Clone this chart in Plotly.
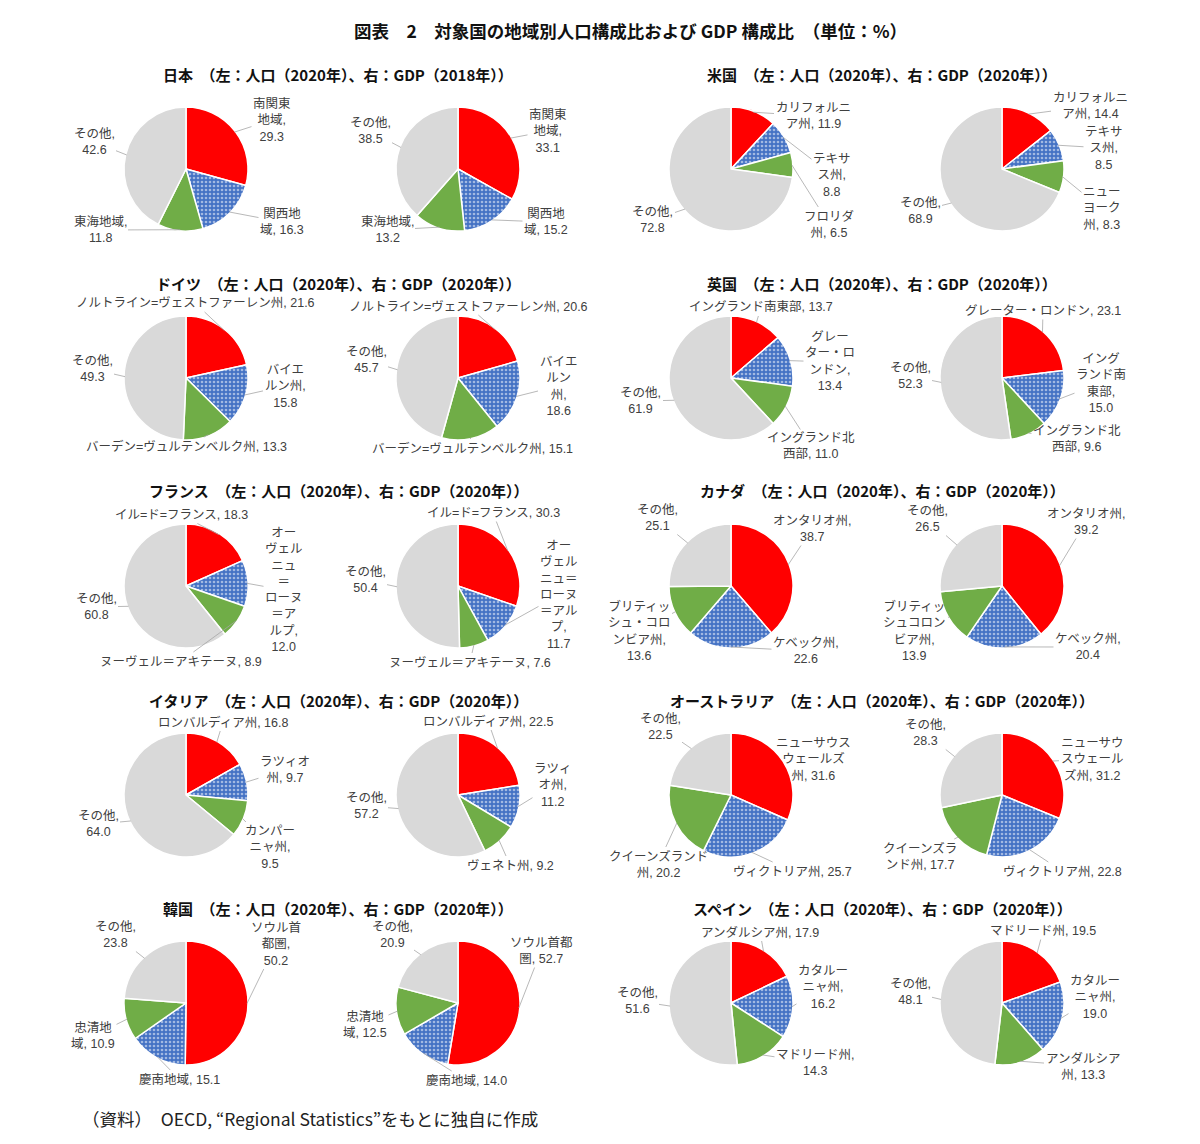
import math

import plotly.graph_objects as go

W, H = 1200, 1144

TITLE = "図表　2　対象国の地域別人口構成比および GDP 構成比　（単位：%）"
SOURCE = "（資料）　OECD, “Regional Statistics”をもとに独自に作成"

COUNTRIES = ["日本", "米国", "ドイツ", "英国", "フランス", "カナダ", "イタリア", "オーストラリア", "韓国", "スペイン"]
GDP_YEARS = ["2018", "2020", "2020", "2020", "2020", "2020", "2020", "2020", "2020", "2020"]

# slice order in every pie: red, blue (dotted), green, grey (その他)
JAPAN_POP_REGIONS = ["南関東地域", "関西地域", "東海地域", "その他"]
JAPAN_POP = [29.3, 16.3, 11.8, 42.6]
JAPAN_GDP_REGIONS = ["南関東地域", "関西地域", "東海地域", "その他"]
JAPAN_GDP = [33.1, 15.2, 13.2, 38.5]

US_POP_REGIONS = ["カリフォルニア州", "テキサス州", "フロリダ州", "その他"]
US_POP = [11.9, 8.8, 6.5, 72.8]
US_GDP_REGIONS = ["カリフォルニア州", "テキサス州", "ニューヨーク州", "その他"]
US_GDP = [14.4, 8.5, 8.3, 68.9]

GERMANY_POP_REGIONS = ["ノルトライン=ヴェストファーレン州", "バイエルン州", "バーデン=ヴュルテンベルク州", "その他"]
GERMANY_POP = [21.6, 15.8, 13.3, 49.3]
GERMANY_GDP_REGIONS = ["ノルトライン=ヴェストファーレン州", "バイエルン州", "バーデン=ヴュルテンベルク州", "その他"]
GERMANY_GDP = [20.6, 18.6, 15.1, 45.7]

UK_POP_REGIONS = ["イングランド南東部", "グレーター・ロンドン", "イングランド北西部", "その他"]
UK_POP = [13.7, 13.4, 11.0, 61.9]
UK_GDP_REGIONS = ["グレーター・ロンドン", "イングランド南東部", "イングランド北西部", "その他"]
UK_GDP = [23.1, 15.0, 9.6, 52.3]

FRANCE_POP_REGIONS = ["イル=ド=フランス", "オーヴェルニュ＝ローヌ＝アルプ", "ヌーヴェル＝アキテーヌ", "その他"]
FRANCE_POP = [18.3, 12.0, 8.9, 60.8]
FRANCE_GDP_REGIONS = ["イル=ド=フランス", "オーヴェルニュ＝ローヌ＝アルプ", "ヌーヴェル＝アキテーヌ", "その他"]
FRANCE_GDP = [30.3, 11.7, 7.6, 50.4]

CANADA_POP_REGIONS = ["オンタリオ州", "ケベック州", "ブリティッシュ・コロンビア州", "その他"]
CANADA_POP = [38.7, 22.6, 13.6, 25.1]
CANADA_GDP_REGIONS = ["オンタリオ州", "ケベック州", "ブリティッシュコロンビア州", "その他"]
CANADA_GDP = [39.2, 20.4, 13.9, 26.5]

ITALY_POP_REGIONS = ["ロンバルディア州", "ラツィオ州", "カンパーニャ州", "その他"]
ITALY_POP = [16.8, 9.7, 9.5, 64.0]
ITALY_GDP_REGIONS = ["ロンバルディア州", "ラツィオ州", "ヴェネト州", "その他"]
ITALY_GDP = [22.5, 11.2, 9.2, 57.2]

AUSTRALIA_POP_REGIONS = ["ニューサウスウェールズ州", "ヴィクトリア州", "クイーンズランド州", "その他"]
AUSTRALIA_POP = [31.6, 25.7, 20.2, 22.5]
AUSTRALIA_GDP_REGIONS = ["ニューサウスウェールズ州", "ヴィクトリア州", "クイーンズランド州", "その他"]
AUSTRALIA_GDP = [31.2, 22.8, 17.7, 28.3]

KOREA_POP_REGIONS = ["ソウル首都圏", "慶南地域", "忠清地域", "その他"]
KOREA_POP = [50.2, 15.1, 10.9, 23.8]
KOREA_GDP_REGIONS = ["ソウル首都圏", "慶南地域", "忠清地域", "その他"]
KOREA_GDP = [52.7, 14.0, 12.5, 20.9]

SPAIN_POP_REGIONS = ["アンダルシア州", "カタルーニャ州", "マドリード州", "その他"]
SPAIN_POP = [17.9, 16.2, 14.3, 51.6]
SPAIN_GDP_REGIONS = ["マドリード州", "カタルーニャ州", "アンダルシア州", "その他"]
SPAIN_GDP = [19.5, 19.0, 13.3, 48.1]

PIES = [
    (JAPAN_POP_REGIONS, JAPAN_POP), (JAPAN_GDP_REGIONS, JAPAN_GDP),
    (US_POP_REGIONS, US_POP), (US_GDP_REGIONS, US_GDP),
    (GERMANY_POP_REGIONS, GERMANY_POP), (GERMANY_GDP_REGIONS, GERMANY_GDP),
    (UK_POP_REGIONS, UK_POP), (UK_GDP_REGIONS, UK_GDP),
    (FRANCE_POP_REGIONS, FRANCE_POP), (FRANCE_GDP_REGIONS, FRANCE_GDP),
    (CANADA_POP_REGIONS, CANADA_POP), (CANADA_GDP_REGIONS, CANADA_GDP),
    (ITALY_POP_REGIONS, ITALY_POP), (ITALY_GDP_REGIONS, ITALY_GDP),
    (AUSTRALIA_POP_REGIONS, AUSTRALIA_POP), (AUSTRALIA_GDP_REGIONS, AUSTRALIA_GDP),
    (KOREA_POP_REGIONS, KOREA_POP), (KOREA_GDP_REGIONS, KOREA_GDP),
    (SPAIN_POP_REGIONS, SPAIN_POP), (SPAIN_GDP_REGIONS, SPAIN_GDP),
]

# ---- layout ----
COLORS = ["#FF0000", "#4472C4", "#70AD47", "#D9D9D9"]
PIE_X = [186, 458, 731, 1002]          # pie centres, px
ROW_Y = [169, 378, 586, 795, 1003]
RADIUS = 62
LABEL_FONT = dict(family="Liberation Sans, Noto Sans CJK JP", size=12.5, color="#404040")
HEAD_FONT = "Noto Sans CJK JP"

# per label: (line breaks inside name, value on its own line, dx, dy from pie centre)
LABELS = [
    [((3,), True, 86, -49), ((3,), False, 96, 53), ((), True, -86, 61), ((), True, -92, -27)],
    [((3,), True, 90, -38), ((3,), False, 88, 53), ((), True, -71, 61), ((), True, -88, -38)],
    [((6,), False, 82, -53), ((3,), True, 101, 6), ((4,), False, 98, 55), ((), True, -78, 51)],
    [((6,), False, 88, -63), ((3,), True, 102, -21), ((3, 6), False, 100, 40), ((), True, -82, 42)],
    [((), False, 9, -75), ((3,), True, 99, 8), ((), False, 0, 68), ((), True, -94, -9)],
    [((), False, 10, -72), ((3, 5), True, 100, 8), ((), False, 14, 70), ((), True, -92, -18)],
    [((), False, 30, -71), ((3, 7), True, 99, -16), ((7,), False, 80, 68), ((), True, -90, 23)],
    [((), False, 41, -67), ((3, 7), True, 99, 5), ((7,), False, 75, 61), ((), True, -92, -2)],
    [((), False, -5, -71), ((2, 5, 7, 8, 11, 13), True, 98, 4), ((), False, -5, 75), ((), True, -90, 21)],
    [((), False, 35, -73), ((2, 5, 8, 11, 14), True, 101, 9), ((), False, 12, 76), ((), True, -93, -6)],
    [((), True, 81, -57), ((), True, 75, 65), ((5, 10), True, -92, 45), ((), True, -74, -68)],
    [((), True, 84, -64), ((), True, 86, 61), ((5, 10), True, -87, 45), ((), True, -75, -67)],
    [((), False, 37, -73), ((4,), False, 99, -25), ((4,), True, 84, 52), ((), True, -88, 29)],
    [((), False, 30, -74), ((3,), True, 95, -10), ((), False, 52, 70), ((), True, -92, 11)],
    [((6, 11), False, 82, -36), ((), False, 61, 76), ((8,), False, -73, 69), ((), True, -71, -68)],
    [((5, 10), False, 90, -36), ((), False, 60, 76), ((6,), False, -82, 61), ((), True, -77, -62)],
    [((4,), True, 90, -59), ((), False, -7, 76), ((3,), False, -93, 33), ((), True, -71, -68)],
    [((5,), False, 83, -52), ((), False, 8, 77), ((3,), False, -93, 22), ((), True, -66, -68)],
    [((), False, 29, -71), ((4,), True, 92, -16), ((), True, 84, 60), ((), True, -94, -2)],
    [((), False, 41, -72), ((4,), True, 93, -6), ((6,), False, 81, 63), ((), True, -92, -11)],
]


def label_text(name, value, breaks, value_newline):
    parts, prev = [], 0
    for b in breaks:
        parts.append(name[prev:b])
        prev = b
    last = name[prev:] + ","
    if value_newline:
        parts += [last, f"{value:.1f}"]
    else:
        parts.append(f"{last} {value:.1f}")
    return "<br>".join(parts)


def text_at(x, y, text, size, xanchor="center", color="#111111"):
    return dict(
        x=x / W, y=1 - y / H, xref="paper", yref="paper",
        xanchor=xanchor, yanchor="middle",
        text=text, showarrow=False,
        font=dict(family=HEAD_FONT, size=size, color=color),
    )


fig = go.Figure()
annotations = []

for i, (regions, values) in enumerate(PIES):
    cx, cy = PIE_X[i % 4], ROW_Y[i // 4]
    fig.add_trace(
        go.Pie(
            labels=regions,
            values=values,
            sort=False,
            direction="clockwise",
            rotation=0,
            textinfo="none",
            domain=dict(
                x=[(cx - RADIUS) / W, (cx + RADIUS) / W],
                y=[1 - (cy + RADIUS) / H, 1 - (cy - RADIUS) / H],
            ),
            marker=dict(
                colors=COLORS,
                line=dict(color="white", width=1.5),
                pattern=dict(
                    shape=["", ".", "", ""],
                    fgcolor="white",
                    size=4,
                    solidity=0.35,
                    fillmode="overlay",
                ),
            ),
            hovertemplate="<b>%{label}</b><br>%{value:.1f}%<extra></extra>",
        )
    )

    total = sum(values)
    cum = 0.0
    for j, (name, v) in enumerate(zip(regions, values)):
        mid = (cum + v / 2) / total * 2 * math.pi
        cum += v
        tx = cx + (RADIUS - 1) * math.sin(mid)
        ty = cy - (RADIUS - 1) * math.cos(mid)
        breaks, nl, dx, dy = LABELS[i][j]
        annotations.append(
            dict(
                x=tx / W,
                y=1 - ty / H,
                xref="paper",
                yref="paper",
                ax=cx + dx - tx,
                ay=cy + dy - ty,
                text=label_text(name, v, breaks, nl),
                showarrow=True,
                arrowhead=0,
                arrowwidth=0.8,
                arrowcolor="#A6A6A6",
                standoff=0,
                align="center",
                font=LABEL_FONT,
            )
        )

# country subtitles
for k, country in enumerate(COUNTRIES):
    side_x = 338 if k % 2 == 0 else 882
    annotations.append(
        text_at(side_x, ROW_Y[k // 2] - 95,
                f"<b>{country}　（左：人口（2020年）、右：GDP（{GDP_YEARS[k]}年））</b>", 15)
    )

annotations.append(text_at(630, 31, f"<b>{TITLE}</b>", 17.5))
annotations.append(text_at(80, 1118, SOURCE, 17.5, xanchor="left", color="#222222"))

fig.update_layout(
    width=W,
    height=H,
    margin=dict(l=0, r=0, t=0, b=0),
    paper_bgcolor="white",
    plot_bgcolor="white",
    showlegend=False,
    annotations=annotations,
)

fig.write_html(
    "out.html",
    config={"displayModeBar": False},
    post_script="document.body.style.margin = '0';",
)
